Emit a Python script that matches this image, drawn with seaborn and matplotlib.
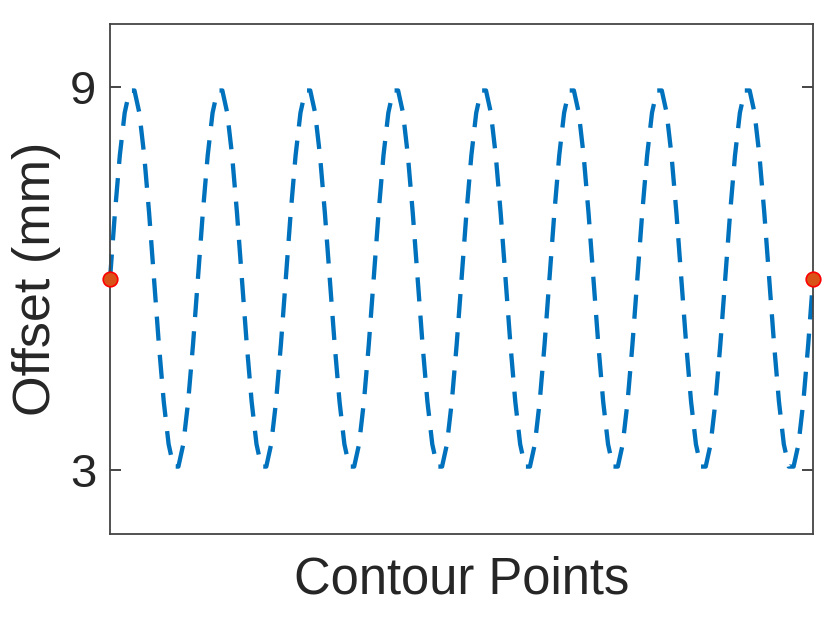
import matplotlib
matplotlib.use("Agg")
import matplotlib.pyplot as plt
import seaborn as sns
import pandas as pd

# offset, one value per contour point (8 waves, 18 points each)
offset = [
    6.00, 7.03, 7.93, 8.60, 8.95, 8.95, 8.60, 7.93, 7.03, 6.00, 4.97, 4.07, 3.40, 3.05, 3.05, 3.40, 4.07, 4.97,
    6.00, 7.03, 7.93, 8.60, 8.95, 8.95, 8.60, 7.93, 7.03, 6.00, 4.97, 4.07, 3.40, 3.05, 3.05, 3.40, 4.07, 4.97,
    6.00, 7.03, 7.93, 8.60, 8.95, 8.95, 8.60, 7.93, 7.03, 6.00, 4.97, 4.07, 3.40, 3.05, 3.05, 3.40, 4.07, 4.97,
    6.00, 7.03, 7.93, 8.60, 8.95, 8.95, 8.60, 7.93, 7.03, 6.00, 4.97, 4.07, 3.40, 3.05, 3.05, 3.40, 4.07, 4.97,
    6.00, 7.03, 7.93, 8.60, 8.95, 8.95, 8.60, 7.93, 7.03, 6.00, 4.97, 4.07, 3.40, 3.05, 3.05, 3.40, 4.07, 4.97,
    6.00, 7.03, 7.93, 8.60, 8.95, 8.95, 8.60, 7.93, 7.03, 6.00, 4.97, 4.07, 3.40, 3.05, 3.05, 3.40, 4.07, 4.97,
    6.00, 7.03, 7.93, 8.60, 8.95, 8.95, 8.60, 7.93, 7.03, 6.00, 4.97, 4.07, 3.40, 3.05, 3.05, 3.40, 4.07, 4.97,
    6.00, 7.03, 7.93, 8.60, 8.95, 8.95, 8.60, 7.93, 7.03, 6.00, 4.97, 4.07, 3.40, 3.05, 3.05, 3.40, 4.07, 4.97,
    6.00,
]
points = list(range(len(offset)))

# start / end markers
end_points = [0, 144]
end_offset = [6.0, 6.0]

y_ticks = [3, 9]

sns.set_style("white")
plt.rcParams['font.family'] = ['Liberation Sans', 'DejaVu Sans']

df = pd.DataFrame({'point': points, 'offset': offset})
ends = pd.DataFrame({'point': end_points, 'offset': end_offset})

fig = plt.figure(figsize=(8.4, 6.2), dpi=100)
ax = fig.add_axes([0.131, 0.1395, 0.837, 0.8225])

sns.lineplot(data=df, x='point', y='offset', ax=ax, color='#0072BD',
             linewidth=3.1, dashes=False)
ax.lines[0].set_dashes((5.6, 3.3))
ax.lines[0].set_clip_on(False)

sns.scatterplot(data=ends, x='point', y='offset', ax=ax, s=110,
                color='#D95319', edgecolor='#FF0000', linewidth=1.2,
                zorder=5, clip_on=False)

ax.set_xlim(0, 144)
ax.set_ylim(2, 10)
ax.set_xticks([])
ax.set_yticks(y_ticks)
ax.tick_params(axis='y', direction='in', length=8, width=1.2, colors='#262626',
               labelsize=34, left=True, right=True, pad=10)
for sp in ax.spines.values():
    sp.set_visible(True)
    sp.set_color('#444444')
    sp.set_linewidth(1.3)

ax.set_xlabel('Contour Points', fontsize=36.5, color='#262626', labelpad=16)
ax.set_ylabel('Offset (mm)', fontsize=37.5, color='#262626', labelpad=6)

fig.savefig('out.png', dpi=100)
